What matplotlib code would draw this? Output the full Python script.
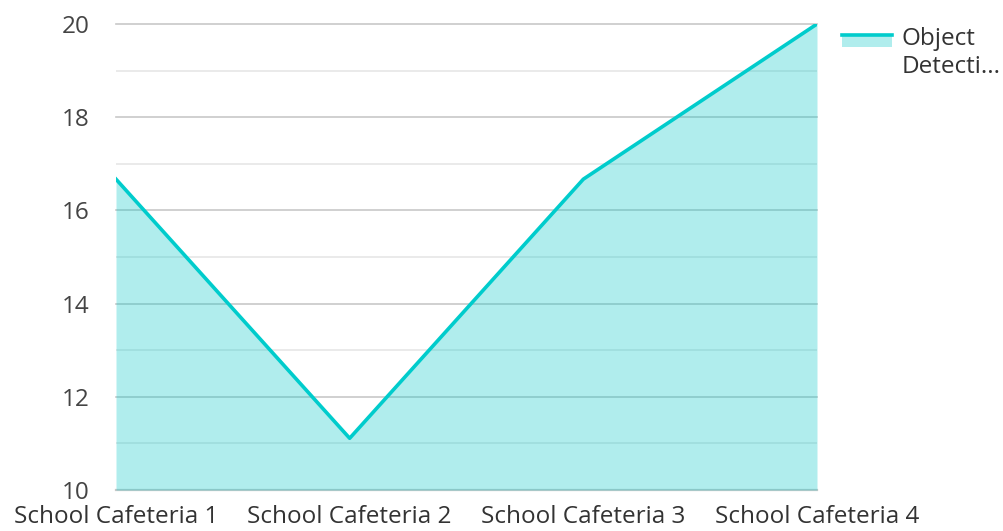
import matplotlib.pyplot as plt
from matplotlib.lines import Line2D
from matplotlib.patches import Rectangle

# data
categories = ["School Cafeteria 1", "School Cafeteria 2", "School Cafeteria 3", "School Cafeteria 4"]
values = [16.67, 11.11, 16.67, 20.0]
series_name = "Object\nDetecti..."
y_ticks = [10, 12, 14, 16, 18, 20]
y_minor = [11, 13, 15, 17, 19]

plt.rcParams["font.family"] = ["Open Sans", "DejaVu Sans"]

line_color = "#00CCCC"
fill_color = "#00C8C8"

fig = plt.figure(figsize=(10.04, 5.31), dpi=100)
ax = fig.add_axes([116 / 1004, 1 - 490 / 531, (817 - 116) / 1004, (490 - 24) / 531])

x = list(range(len(categories)))
ax.fill_between(x, values, 10, color=fill_color, alpha=0.31, linewidth=0, zorder=2)
ax.plot(x, values, color=line_color, linewidth=2.6, zorder=3)

ax.set_xlim(0, len(categories) - 1)
ax.set_ylim(10, 20)
ax.set_yticks(y_ticks)
ax.set_yticks(y_minor, minor=True)
ax.set_xticks(x)
ax.set_xticklabels(categories)

ax.grid(axis="y", which="major", color="#c8c8c8", linewidth=1.2, zorder=1)
ax.grid(axis="y", which="minor", color="#e6e6e6", linewidth=1.2, zorder=1)
ax.set_axisbelow(True)
for gl in ax.get_ygridlines():
    gl.set_clip_on(False)
# baseline at 10
ax.axhline(10, color="#c8c8c8", linewidth=1.6, zorder=1, clip_on=False)

for s in ax.spines.values():
    s.set_visible(False)
ax.tick_params(axis="both", which="both", length=0)
ax.tick_params(axis="y", labelsize=17.5, labelcolor="#444444", pad=19)
ax.tick_params(axis="x", labelsize=17.5, labelcolor="#333333", pad=11)

# legend drawn in figure pixels
fig.patches.append(Rectangle((842 / 1004, 1 - 47 / 531), 50 / 1004, 12 / 531,
                             transform=fig.transFigure, facecolor=fill_color,
                             alpha=0.31, edgecolor="none"))
fig.lines.append(Line2D([842 / 1004, 892 / 1004], [1 - 35 / 531, 1 - 35 / 531],
                        transform=fig.transFigure, color=line_color, linewidth=2.6))
fig.text(902 / 1004, 1 - 27 / 531, series_name, ha="left", va="top",
         fontsize=17.5, color="#333333", linespacing=1.23)

fig.savefig("out.png", dpi=100)
